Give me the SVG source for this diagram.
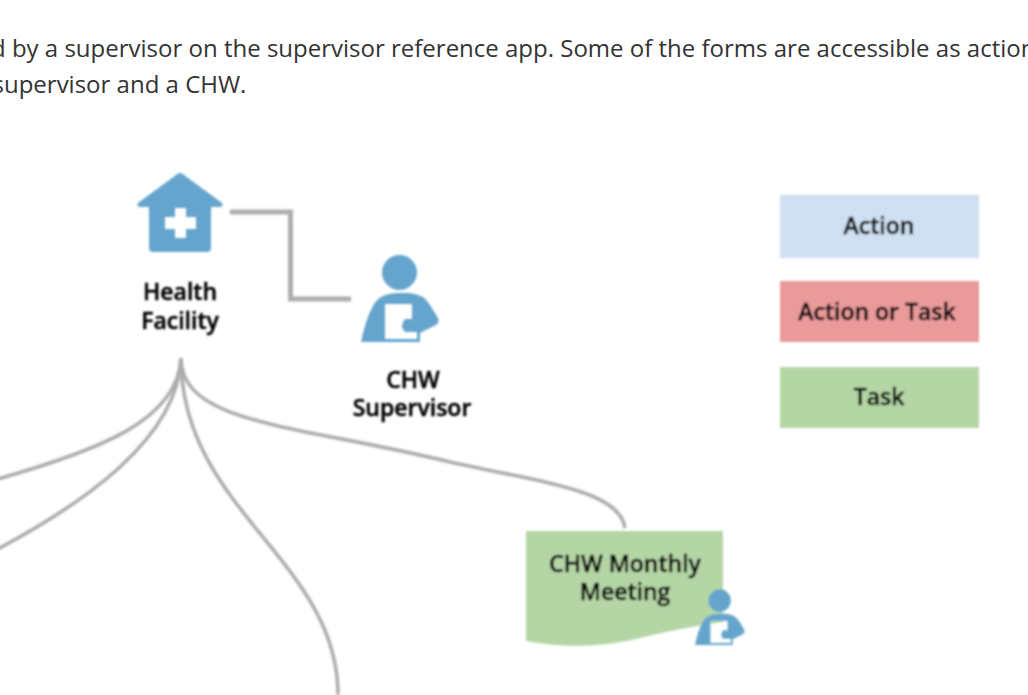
<svg xmlns="http://www.w3.org/2000/svg" width="1028" height="695" viewBox="0 0 1028 695">
  <style>
    .para { font-family: "Open Sans", "Noto Sans", sans-serif; font-size: 24px; fill: #333; }
    .lbl { font-family: "Open Sans", "Noto Sans", sans-serif; font-size: 23px; fill: #000; stroke: #000; stroke-width: 0.5; text-anchor: middle; font-weight: 600; }
    .conn { fill: none; stroke: #adadad; stroke-width: 3.6; }
    .elbow { stroke-width: 5; }
    .icon { fill: #65a5cd; }
  </style>
  <defs>
    <filter id="soft" filterUnits="userSpaceOnUse" x="-20" y="150" width="1068" height="560"><feGaussianBlur stdDeviation="0.9"/></filter>
    <g id="chw">
      <circle cx="38.500" cy="16.500" r="17.500"/>
      <path fill-rule="evenodd" d="M20 41 Q27 37 38 37 L48 37 Q63 38 69 49 L77 62 Q79 68 73 70 L59 77 L59 86 L0 86 Q5 62 12 50 Q15 44 20 41 Z M24 48 L24 83 L56 83 L56 76 L44 76 Q38 70 44 63 L51 63 L51 48 Z"/>
    </g>
  </defs>
  <rect width="1028" height="695" fill="#fff"/>
  <text class="para" x="-9" y="57">d by a supervisor on the supervisor reference app. Some of the forms are accessible as action</text>
  <text class="para" x="-7.500" y="93">supervisor and a CHW.</text>
  <g filter="url(#soft)">
    <g id="connectors">
      <path class="conn elbow" d="M230 212 H290.500 V299 H351"/>
      <path class="conn" d="M181 358 C178 420 100 450 -2 479"/>
      <path class="conn" d="M181 358 C178 440 80 505 -2 549"/>
      <path class="conn" d="M181 358 C181 510 338 560 338 695"/>
      <path class="conn" d="M181 358 C181 425 300 425 450 462 C540 482 620 490 625 528"/>
    </g>
    <g id="health-facility">
      <path class="icon" fill-rule="evenodd" d="M180 173 Q182 173 184 175 L222 203 Q224 207 219 207 L211 207 L211 248 Q211 252 207 252 L153 252 Q149 252 149 248 L149 207 L141 207 Q136 207 138 203 L176 175 Q178 173 180 173 Z M175 208 L175 217 L165 217 L165 229 L175 229 L175 238 L186 238 L186 229 L196 229 L196 217 L186 217 L186 208 Z"/>
      <text class="lbl" x="180" y="300">Health</text>
      <text class="lbl" x="180" y="329">Facility</text>
    </g>
    <g id="chw-supervisor">
      <use href="#chw" class="icon" x="361" y="256"/>
      <text class="lbl" x="413" y="388">CHW</text>
      <text class="lbl" x="412" y="416">Supervisor</text>
    </g>
    <g id="legend-action">
      <rect x="780" y="195" width="199" height="63" fill="#cfe0f2"/>
      <text class="lbl" x="879" y="234">Action</text>
    </g>
    <g id="legend-action-or-task">
      <rect x="780" y="281" width="199" height="61" fill="#ea9a9a"/>
      <text class="lbl" x="877" y="320">Action or Task</text>
    </g>
    <g id="legend-task">
      <rect x="780" y="367" width="199" height="61" fill="#b4d6a5"/>
      <text class="lbl" x="879" y="405">Task</text>
    </g>
    <g id="chw-monthly-meeting">
      <path d="M526 531 H723 V622 Q680 628 640 638 Q585 652 526 641 Z" fill="#b4d6a5"/>
      <text class="lbl" x="625" y="572">CHW Monthly</text>
      <text class="lbl" x="625" y="600">Meeting</text>
      <use href="#chw" class="icon" transform="translate(695 590) scale(0.64)"/>
    </g>
  </g>
</svg>
